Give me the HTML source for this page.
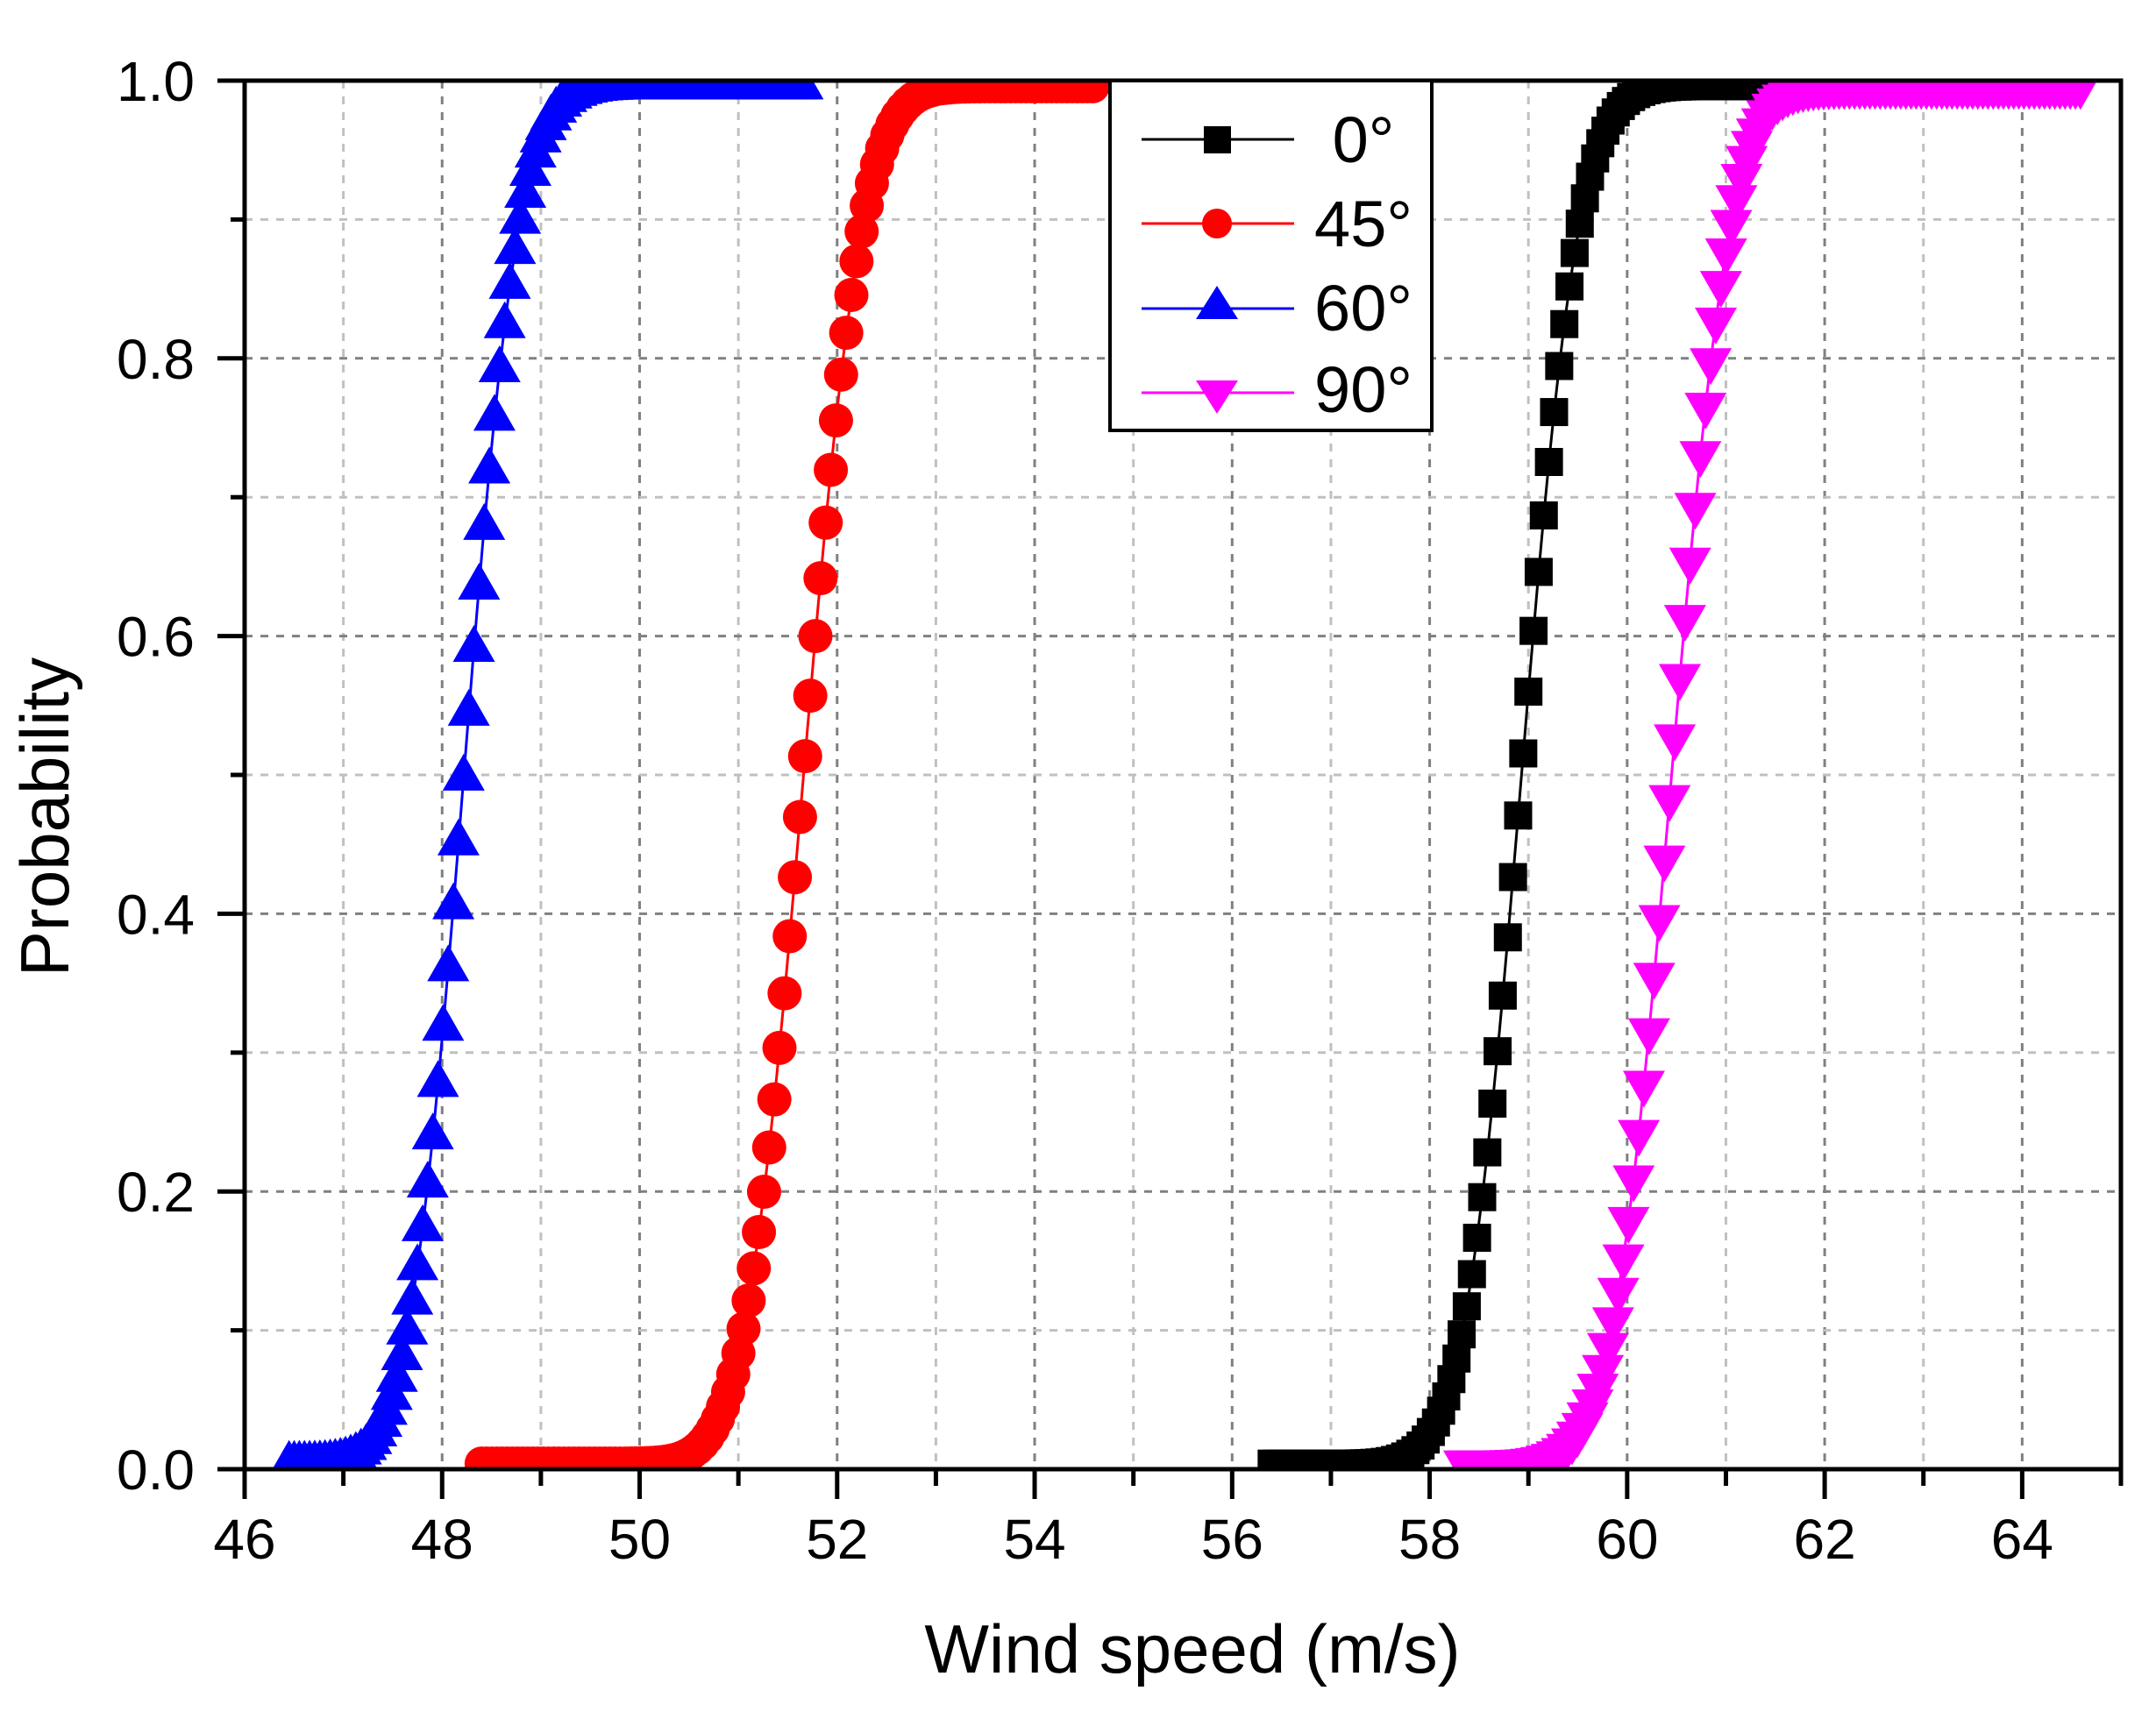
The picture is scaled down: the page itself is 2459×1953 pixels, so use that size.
<!DOCTYPE html>
<html><head><meta charset="utf-8"><style>
html,body{margin:0;padding:0;background:#fff;}
svg{display:block;font-family:"Liberation Sans",Arial,sans-serif;}
</style></head><body>
<svg id="s" width="2459" height="1953" viewBox="0 0 2459 1953" xmlns="http://www.w3.org/2000/svg">
<rect width="2459" height="1953" fill="#fff"/>
<defs><clipPath id="pc"><rect x="279" y="92" width="2140" height="1584"/></clipPath></defs>
<g id="grid"></g>
<g id="data" clip-path="url(#pc)"></g>
<g id="axes"></g>
<g id="legend">
<rect x="1266" y="92" width="367" height="399" fill="#fff" stroke="#000" stroke-width="4"/>
<line x1="1302" y1="159" x2="1476" y2="159" stroke="#000" stroke-width="3"/>
<rect x="1373" y="144" width="31" height="31" fill="#000"/>
<line x1="1302" y1="255" x2="1476" y2="255" stroke="#f00" stroke-width="3"/>
<circle cx="1388" cy="255" r="17" fill="#f00"/>
<line x1="1302" y1="352" x2="1476" y2="352" stroke="#00f" stroke-width="3"/>
<polygon points="1388,326 1412,364 1364,364" fill="#00f"/>
<line x1="1302" y1="448" x2="1476" y2="448" stroke="#f0f" stroke-width="3"/>
<polygon points="1364,434 1412,434 1388,472" fill="#f0f"/>
<g font-size="74" text-anchor="middle" fill="#000">
<text x="1555" y="185">0°</text>
<text x="1555" y="281">45°</text>
<text x="1555" y="377">60°</text>
<text x="1555" y="470">90°</text>
</g>
</g>
<text x="1360" y="1908" font-size="78" text-anchor="middle">Wind speed (m/s)</text>
<text transform="translate(78,932) rotate(-90)" font-size="78" text-anchor="middle">Probability</text>
</svg>
<script>
(function(){
var NS="http://www.w3.org/2000/svg";
var X0=279,X1=2419,Y0=1676,Y1=92;
function px(x){return X0+(x-46)*(X1-X0)/19;}
function py(p){return Y0-p*(Y0-Y1);}
function el(tag,attrs,parent){var e=document.createElementNS(NS,tag);for(var k in attrs)e.setAttribute(k,attrs[k]);parent.appendChild(e);return e;}
var grid=document.getElementById('grid'),axes=document.getElementById('axes'),data=document.getElementById('data');
for(var x=47;x<65;x++){var maj=(x%2==0);el('line',{x1:px(x),y1:Y1,x2:px(x),y2:Y0,stroke:maj?'#808080':'#c0c0c0','stroke-width':3,'stroke-dasharray':'9 9'},grid);}
for(var i=1;i<10;i++){var maj=(i%2==0);el('line',{x1:X0,y1:py(i/10),x2:X1,y2:py(i/10),stroke:maj?'#808080':'#c0c0c0','stroke-width':3,'stroke-dasharray':'9 9'},grid);}
el('rect',{x:X0,y:Y1,width:X1-X0,height:Y0-Y1,fill:'none',stroke:'#000','stroke-width':5},axes);
for(var x=46;x<=65;x++){var maj=(x%2==0);el('line',{x1:px(x),y1:Y0,x2:px(x),y2:Y0+(maj?34:19),stroke:'#000','stroke-width':5},axes);
 if(maj){var t=el('text',{x:px(x),y:1778,'font-size':64,'text-anchor':'middle'},axes);t.textContent=x;}}
for(var i=0;i<=10;i++){var maj=(i%2==0);el('line',{x1:X0,y1:py(i/10),x2:X0-(maj?31:16),y2:py(i/10),stroke:'#000','stroke-width':5},axes);
 if(maj){var t=el('text',{x:222,y:py(i/10)+23,'font-size':64,'text-anchor':'end'},axes);t.textContent=(i/10).toFixed(1);}}
function erf(x){var s=x<0?-1:1;x=Math.abs(x);var t=1/(1+0.3275911*x);var y=1-(((((1.061405429*t-1.453152027)*t)+1.421413741)*t-0.284496736)*t+0.254829592)*t*Math.exp(-x*x);return s*y;}
function Phi(z){return 0.5*(1+erf(z/Math.SQRT2));}
var series=[
 {c:'#000',m:'sq',mu:58.93,s:0.46,a:56.4,b:61.6},
 {c:'#f00',m:'ci',mu:51.66,s:0.47,a:48.4,b:54.62},
 {c:'#00f',m:'up',mu:48.22,s:0.44,a:46.45,b:51.66},
 {c:'#f0f',m:'dn',mu:60.45,s:0.47,a:58.35,b:64.6}
];
series.forEach(function(S){
 var pts=[],dx=0.052;
 for(var x=S.a;x<=S.b+1e-9;x+=dx){var p=Phi((x-S.mu)/S.s);p=0.004+0.992*p;pts.push([px(x),py(p)]);}
 var g=el('g',{fill:S.c},data);
 el('polyline',{points:pts.map(function(q){return q[0].toFixed(1)+','+q[1].toFixed(1);}).join(' '),fill:'none',stroke:S.c,'stroke-width':3},g);
 pts.forEach(function(q){var x=q[0],y=q[1];
  if(S.m=='sq')el('rect',{x:x-16,y:y-16,width:32,height:32},g);
  else if(S.m=='ci')el('circle',{cx:x,cy:y,r:19.5},g);
  else if(S.m=='up')el('polygon',{points:x+','+(y-27)+' '+(x+24)+','+(y+15)+' '+(x-24)+','+(y+15)},g);
  else el('polygon',{points:(x-24)+','+(y-15)+' '+(x+24)+','+(y-15)+' '+x+','+(y+27)},g);
 });
});
})();
</script>
</body></html>
